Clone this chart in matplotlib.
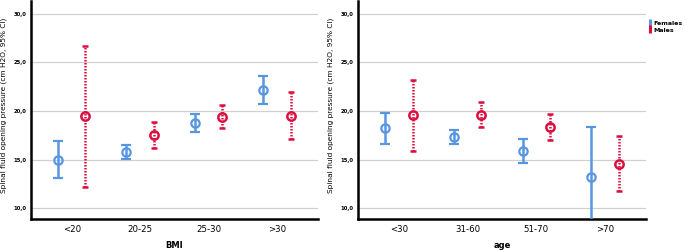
import numpy as np
import matplotlib.pyplot as plt
from matplotlib.lines import Line2D

bmi_groups = ["<20", "20-25", "25-30", ">30"]
bmi_f_mean = [15.0, 15.8, 18.75, 22.15]
bmi_f_low = [13.15, 15.1, 17.85, 20.75]
bmi_f_high = [16.9, 16.55, 19.7, 23.6]
bmi_m_mean = [19.45, 17.5, 19.4, 19.5]
bmi_m_low = [12.15, 16.15, 18.2, 17.15]
bmi_m_high = [26.7, 18.85, 20.65, 21.9]

age_groups = ["<30", "31-60", "51-70", ">70"]
age_f_mean = [18.25, 17.3, 15.9, 13.25]
age_f_low = [16.6, 16.6, 14.65, 8.1]
age_f_high = [19.8, 18.05, 17.15, 18.35]
age_m_mean = [19.55, 19.6, 18.35, 14.6]
age_m_low = [15.9, 18.4, 17.05, 11.8]
age_m_high = [23.2, 20.9, 19.7, 17.4]

blue = "#5896E2"
red = "#DC1040"

fig = plt.figure(figsize=(6.85, 2.5), dpi=100)
ax1 = fig.add_axes([0.045, 0.124, 0.419, 0.872])
ax2 = fig.add_axes([0.5226, 0.124, 0.4204, 0.872])


def draw(ax, groups, fm, fl, fh, mm, ml, mh, xlabel):
    x = np.arange(len(groups))
    fm, fl, fh = map(np.array, (fm, fl, fh))
    mm, ml, mh = map(np.array, (mm, ml, mh))
    for yv in [10, 15, 20, 25, 30]:
        ax.axhline(yv, color="#d0d0d0", lw=0.9, zorder=0)
    ax.errorbar(x - 0.2, fm, yerr=[fm - fl, fh - fm], fmt="o", color=blue,
                mfc="none", mec=blue, mew=1.6, ms=6, elinewidth=1.8,
                capsize=3.5, capthick=1.8, zorder=3)
    eb2 = ax.errorbar(x + 0.2, mm, yerr=[mm - ml, mh - mm], fmt="o", color=red,
                      mfc="none", mec=red, mew=1.8, ms=6, elinewidth=1.8,
                      capsize=2.5, capthick=1.5, zorder=3)
    for c in eb2[2]:
        c.set_linestyle((0, (0.6, 0.6)))
    ax.set_xlim(-0.6, 3.6)
    ax.set_ylim(8.9, 31.3)
    ax.set_yticks([10, 15, 20, 25, 30])
    ax.set_yticklabels(["10,0", "15,0", "20,0", "25,0", "30,0"],
                       fontsize=3.8, fontweight="bold")
    ax.set_xticks(x)
    ax.set_xticklabels(groups, fontsize=6.2)
    ax.tick_params(axis="y", length=0, pad=3)
    ax.tick_params(axis="x", length=0, pad=4)
    for s in ["top", "right"]:
        ax.spines[s].set_visible(False)
    for s in ["left", "bottom"]:
        ax.spines[s].set_linewidth(1.8)
    ax.set_xlabel(xlabel, fontsize=6.0, fontweight="bold", labelpad=5)
    ax.set_ylabel("Spinal fluid opening pressure (cm H2O, 95% CI)",
                  fontsize=5.3)
    ax.yaxis.set_label_coords(-0.083, 0.52)


draw(ax1, bmi_groups, bmi_f_mean, bmi_f_low, bmi_f_high,
     bmi_m_mean, bmi_m_low, bmi_m_high, "BMI")
draw(ax2, age_groups, age_f_mean, age_f_low, age_f_high,
     age_m_mean, age_m_low, age_m_high, "age")

handles = [Line2D([0], [0], color=blue, marker="|", linestyle="none",
                  markersize=6, markeredgewidth=2.2),
           Line2D([0], [0], color=red, marker="|", linestyle="none",
                  markersize=6, markeredgewidth=2.2)]
fig.legend(handles, ["Females", "Males"], loc="upper left",
           bbox_to_anchor=(0.942, 0.93), frameon=False,
           prop={"weight": "bold", "size": 4.5}, handlelength=0.5,
           handletextpad=0.3, labelspacing=0.2, borderpad=0)

fig.savefig("out.png", dpi=100)
